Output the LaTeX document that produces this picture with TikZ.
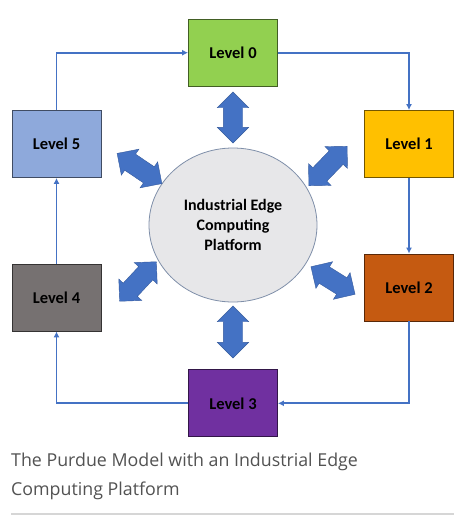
\documentclass[tikz,border=0pt]{standalone}
\usepackage{fontspec}
\setmainfont{Carlito}
\newfontfamily\captionfont{Open Sans}
\usepackage{xcolor}
\usetikzlibrary{
  arrows.meta,
  calc,
  shapes.geometric,
  shapes.arrows,
  positioning}
\definecolor{flowblue}{HTML}{4472C4}
\definecolor{hubfill}{HTML}{E7E7E9}
\definecolor{hubedge}{HTML}{7F8FA9}
\definecolor{levelA}{HTML}{92D050}
\definecolor{levelB}{HTML}{FFC000}
\definecolor{levelC}{HTML}{C55A11}
\definecolor{levelD}{HTML}{7030A0}
\definecolor{levelE}{HTML}{767171}
\definecolor{levelF}{HTML}{8EA9DB}
\definecolor{captiongray}{HTML}{525252}
\definecolor{rulegray}{HTML}{D6D6D6}
\tikzset{
  module/.style={%
    fill=#1,
    draw=#1!45!black, line width=0.8pt,
    % All six levels share the same box size.
    minimum width=89pt,
    minimum height=67pt,
    inner sep=0pt,
    align=center,
    font=\bfseries\fontsize{16.5}{20}\selectfont
  },
  platform/.style={%
    shape=ellipse,
    fill=hubfill,
    draw=hubedge, line width=0.8pt,
    minimum width=168pt,
    minimum height=154pt,
    inner sep=0pt,
    align=center,
    font=\bfseries\fontsize{16}{20}\selectfont
  },
  arrowR/.style={%
    draw=flowblue, line width=1.8pt,
    -{Latex[length=6pt,width=6pt]}
  },
  arrowX/.style={%
    shape=double arrow,
    fill=flowblue, draw=flowblue!80!black, line width=0.4pt,
    double arrow head extend=6pt,
    double arrow tip angle=90,
    % The empty text plus inner ysep gives a 19pt shaft.
    inner xsep=0pt,
    inner ysep=9.5pt,
    minimum height=#1
  }%
}

\begin{document}
\begin{tikzpicture}[x=1pt,y=-1pt]
\useasboundingbox (0,0) rectangle (474,528);

% The platform is the "root" node, the levels sit round it.
\node[platform] (Platform) at (233,225) {Industrial Edge\\Computing\\Platform};
\node[module=levelA, above=61pt of Platform] (Level0) {Level 0};
\node[module=levelD, below=67pt of Platform] (Level3) {Level 3};
\node[module=levelB] at (409,144) (Level1) {Level 1};
\node[module=levelC] at (409,287.5) (Level2) {Level 2};
\node[module=levelE] at (56.5,297.5) (Level4) {Level 4};
\node[module=levelF] at (56.5,144) (Level5) {Level 5};

% Block arrows between the platform and each level.
\node[arrowX=51pt, rotate=90] at (233,117.5) (Link0) {};
\node[arrowX=55pt, rotate=46] at (328,166) (Link1) {};
\node[arrowX=52pt, rotate=-32] at (333,280.5) (Link2) {};
\node[arrowX=52pt, rotate=90] at (233,332) (Link3) {};
\node[arrowX=54pt, rotate=47] at (138,281.5) (Link4) {};
\node[arrowX=54pt, rotate=-34] at (139.5,168.5) (Link5) {};

% The cycle from one level to the next.
\draw[arrowR] (Level0.east) -| (Level1.north);
\draw[arrowR] (Level1.south) -- (Level2.north);
\draw[arrowR] (Level2.south) |- (Level3.east);
\draw[arrowR] (Level3.west) -| (Level4.south);
\draw[arrowR] (Level4.north) -- (Level5.south);
\draw[arrowR] (Level5.north) |- (Level0.west);

% Caption under the figure.
\node[anchor=base west, inner sep=0pt, text=captiongray,
  font=\captionfont\fontsize{17.8}{28}\selectfont] at (11,466.5) (Caption)
  {The Purdue Model with an Industrial Edge};
\node[anchor=base west, inner sep=0pt, text=captiongray,
  font=\captionfont\fontsize{17.8}{28}\selectfont] at (11,495) (CaptionB)
  {Computing Platform};
\draw[rulegray, line width=1.2pt] (11,514) -- (454,514);

\end{tikzpicture}
\end{document}
